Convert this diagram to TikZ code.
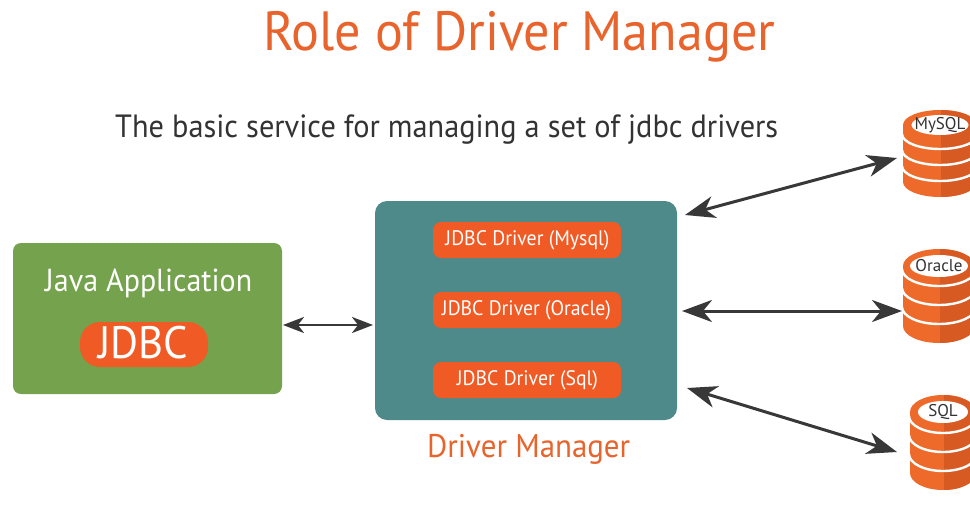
\documentclass[tikz,border=0pt]{standalone}
\usepackage{fontspec}
\setmainfont{PT Sans}
\usepackage{graphicx}
\usetikzlibrary{arrows.meta}
\definecolor{ttlorange}{HTML}{E8642C}
\definecolor{pillorange}{HTML}{F05A24}
\definecolor{dbor}{HTML}{EE6A2A}
\definecolor{dbdark}{HTML}{D65A22}
\definecolor{teal}{HTML}{4F8A8B}
\definecolor{jgreen}{HTML}{75A24D}
\definecolor{darkarrow}{HTML}{383838}
\definecolor{txtgray}{HTML}{333333}
\newcommand\fitw[2]{\scalebox{1}[1.06]{\resizebox{#1}{!}{#2}}}
% db icon: cx, T, B, rx, ry, s, wrx, wry, name ; label from \<name>lbl
\newcommand\dbicon[9]{%
  \def\cx{#1}\def\tT{#2}\def\bB{#3}\def\rx{#4}\def\ry{#5}\def\ss{#6}\def\wrx{#7}\def\wry{#8}%
  \path[fill=dbor] (\cx-\rx,\tT+\ry) arc[start angle=180,end angle=360,x radius=\rx,y radius=\ry]
     -- (\cx+\rx,\bB-\ry) arc[start angle=0,end angle=180,x radius=\rx,y radius=\ry] -- cycle;
  \begin{scope}
    \clip (\cx-\rx,\tT+\ry) arc[start angle=180,end angle=360,x radius=\rx,y radius=\ry]
     -- (\cx+\rx,\bB-\ry) arc[start angle=0,end angle=180,x radius=\rx,y radius=\ry] -- cycle;
    \fill[dbdark] (\cx+1,\tT-2) rectangle (\cx+\rx+2,\bB+2);
  \end{scope}
  \foreach \k in {1,2,3}{
    \draw[white,line width=2.4pt] (\cx-\rx-1,\bB-\ss*\k-\ry) arc[start angle=180,end angle=0,x radius=\rx+1,y radius=\ry];
  }
  \fill[white] (\cx,\tT+\ry) ellipse[x radius=\wrx,y radius=\wry];
  \node[font=\fontsize{17}{18}\selectfont,text=txtgray,inner sep=0] (#9) at (\cx,\tT+\ry) {\csname #9lbl\endcsname};
}
\tikzset{
  pill/.style={fill=pillorange,rounded corners=8pt,inner sep=0,minimum width=188pt,minimum height=36pt},
  dblarrow/.style={darkarrow,line width=3pt,{Stealth[length=30pt,width=22pt,inset=9pt]}-{Stealth[length=30pt,width=22pt,inset=9pt]}},
  smallarrow/.style={darkarrow,line width=2.5pt,{Stealth[length=21pt,width=16pt,inset=6pt]}-{Stealth[length=21pt,width=16pt,inset=6pt]}},
  txt/.style={inner sep=0,anchor=base west}
}
\begin{document}
\begin{tikzpicture}[x=1pt,y=-1pt]
\useasboundingbox[fill=white] (0,0) rectangle (970,509);
% title
\node[txt,text=ttlorange] (title) at (263,50) {\fitw{512pt}{Role of Driver Manager}};
\node[txt,text=txtgray] (sub) at (115,137) {\fitw{663pt}{The basic service for managing a set of jdbc drivers}};
% java app
\node[fill=jgreen,rounded corners=8pt,minimum width=269pt,minimum height=151pt,inner sep=0] (java) at (147.5,318.5) {};
\node[txt,text=white] (javat) at (45,291) {\fitw{207pt}{Java Application}};
\node[fill=pillorange,rounded corners=20pt,minimum width=128pt,minimum height=45pt,inner sep=0] (jdbc) at (144,344.5) {};
\node[txt,text=white] (jdbct) at (98,358) {\fitw{90pt}{JDBC}};
% driver manager
\node[fill=teal,rounded corners=12pt,minimum width=302pt,minimum height=219pt,inner sep=0] (dm) at (526,310.5) {};
\node[pill] (d1) at (527,240) {};
\node[pill] (d2) at (527,310) {};
\node[pill] (d3) at (527,380) {};
\node[text=white,inner sep=0] (d1t) at (527.5,240) {\fitw{164pt}{JDBC Driver (Mysql)}};
\node[text=white,inner sep=0] (d2t) at (526.5,310) {\fitw{169pt}{JDBC Driver (Oracle)}};
\node[text=white,inner sep=0] (d3t) at (527.5,380) {\fitw{141pt}{JDBC Driver (Sql)}};
\node[txt,text=ttlorange] (dmt) at (427,457) {\fitw{203pt}{Driver Manager}};
% databases
\def\mysqllbl{MySQL}\def\oraclelbl{Oracle}\def\sqllbl{SQL}
\dbicon{940}{110}{197}{37}{15}{16}{28.5}{10}{mysql}
\dbicon{939}{249}{343}{36}{17}{19}{29}{11}{oracle}
\dbicon{943}{395}{490}{33}{17}{19}{25}{11}{sql}
% connectors
\coordinate (a0) at (283,325);
\coordinate (b0) at (373,325);
\coordinate (a1) at (685,215);
\coordinate (b1) at (897,158);
\coordinate (a2) at (682,311);
\coordinate (b2) at (902,311);
\coordinate (a3) at (687,388);
\coordinate (b3) at (897,452);
\draw[smallarrow] (a0) -- (b0);
\draw[dblarrow] (a1) -- (b1);
\draw[dblarrow] (a2) -- (b2);
\draw[dblarrow] (a3) -- (b3);
\end{tikzpicture}
\end{document}
